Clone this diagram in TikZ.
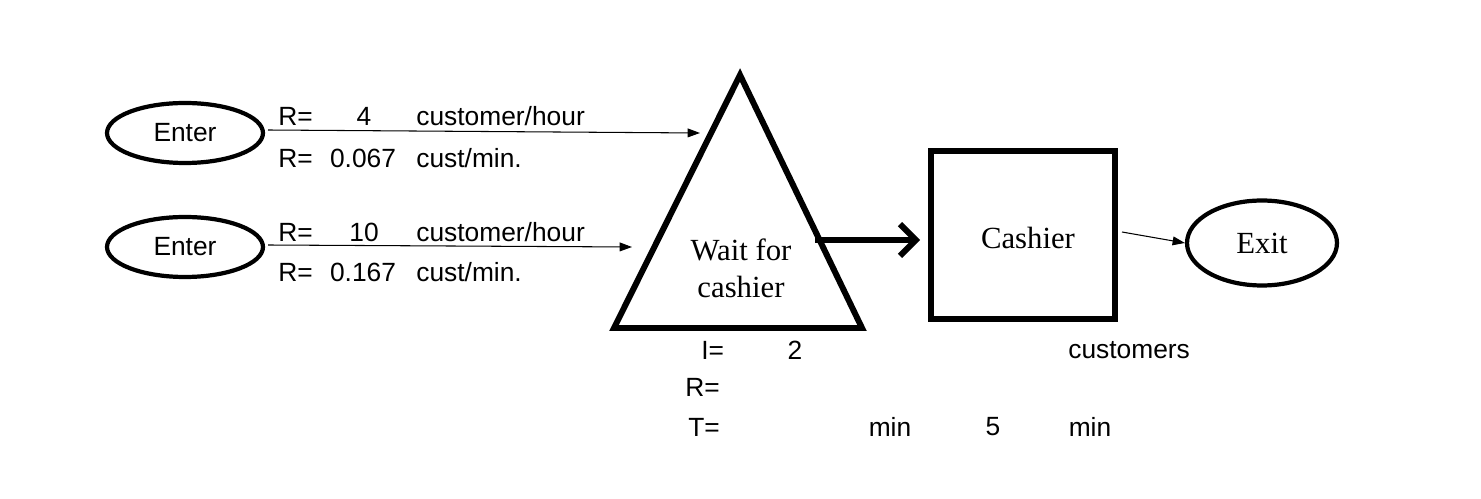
\documentclass[tikz,border=0pt]{standalone}
\usepackage{fontspec}
\setmainfont{Liberation Serif}
\newfontfamily\arialf{Liberation Sans}
\usetikzlibrary{shapes.geometric,arrows.meta}
\begin{document}
\begin{tikzpicture}[x=0.02cm,y=-0.02cm,
  lab/.style={font=\arialf\fontsize{15}{17}\selectfont,inner sep=0,anchor=west},
  ser/.style={font=\fontsize{17.5}{21}\selectfont,align=center},
  ell/.style={draw,line width=2.4pt,ellipse},
  thin/.style={-{Triangle[length=7pt,width=5pt]},line width=0.6pt}]
\useasboundingbox (0,0) rectangle (1481,499);
\node[ell,minimum width=3.12cm,minimum height=1.2cm,font=\arialf\fontsize{15}{17}\selectfont] (e1) at (185,133) {Enter};
\node[ell,minimum width=3.12cm,minimum height=1.2cm,font=\arialf\fontsize{15}{17}\selectfont] (e2) at (185,247) {Enter};
\node[ell,minimum width=3.0cm,minimum height=1.7cm,font=\fontsize{17.5}{20}\selectfont] (ex) at (1262,243) {Exit};
\coordinate (a1s) at (268,130); \coordinate (a1e) at (700,133);
\coordinate (a2s) at (268,245); \coordinate (a2e) at (632,247);
\draw[thin] (a1s) -- (a1e);
\draw[thin] (a2s) -- (a2e);
\draw[line width=3.4pt,line join=miter] (740,75) -- (862,328) -- (614,328) -- cycle;
\node[ser] (w) at (741,268) {Wait for\\cashier};
\node[draw,line width=3.8pt,minimum width=3.68cm,minimum height=3.36cm,inner sep=0] (c) at (1023,235) {};
\node[ser] at (1028,238) {Cashier};
\coordinate (t1) at (815,240); \coordinate (t2) at (920,240);
\draw[line width=3.4pt,-{Straight Barb[length=9pt,width=18pt,line width=3.4pt]}] (t1) -- (t2);
\draw[thin] (1122,232) -- (ex.west);
\node[lab] at (278,116) {R=};
\node[lab,anchor=center] at (364,116) {4};
\node[lab] at (416,116) {customer/hour};
\node[lab] at (278,158) {R=};
\node[lab,anchor=center] at (363,158) {0.067};
\node[lab] at (416,158) {cust/min.};
\node[lab] at (278,232) {R=};
\node[lab,anchor=center] at (364,232) {10};
\node[lab] at (416,232) {customer/hour};
\node[lab] at (278,272) {R=};
\node[lab,anchor=center] at (363,272) {0.167};
\node[lab] at (416,272) {cust/min.};
\node[lab] at (701,350) {I=};
\node[lab,anchor=center] at (795,350) {2};
\node[lab] at (1068,350) {customers};
\node[lab] at (685,387) {R=};
\node[lab] at (688,427) {T=};
\node[lab,anchor=center] at (890,427) {min};
\node[lab,anchor=center] at (993,427) {5};
\node[lab,anchor=center] at (1090,427) {min};
\end{tikzpicture}
\end{document}
